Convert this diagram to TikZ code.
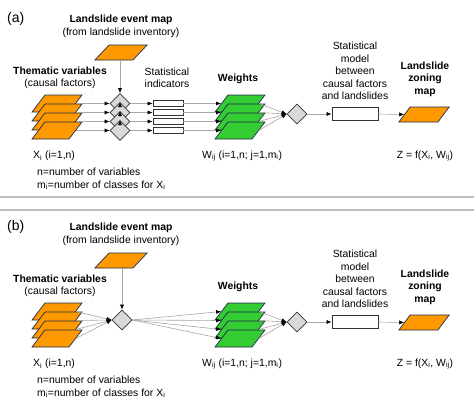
\documentclass[tikz,border=0pt]{standalone}
\usepackage{fontspec}
\setmainfont{Liberation Sans}
\usetikzlibrary{shapes.geometric,arrows.meta}
\definecolor{orng}{HTML}{FF9900}
\definecolor{grn}{HTML}{33CC33}
\definecolor{edg}{HTML}{1F2A4A}
\definecolor{lgr}{HTML}{D9D9D9}
\definecolor{wire}{HTML}{A6A6A6}
\begin{document}
\begin{tikzpicture}[x=1pt,y=-1pt,
  txt/.style={font=\fontsize{10.4}{12.5}\selectfont,align=center,inner sep=0pt},
  lyr/.style={draw=edg,line width=0.7pt,fill=#1,xslant=0.76,transform shape,minimum width=37pt,minimum height=17pt,inner sep=0pt},
  map/.style={draw=edg,line width=0.7pt,fill=orng,transform shape,minimum width=#1,minimum height=15pt,inner sep=0pt},
  dmd/.style={diamond,draw=black!80,fill=lgr,line width=0.7pt,minimum width=20pt,minimum height=20pt,inner sep=0pt},
  box/.style={draw=black!80,fill=white,line width=0.7pt,inner sep=0pt},
  wr/.style={draw=wire,line width=0.6pt,-{Latex[color=black,length=5pt,width=4pt]}}]
\useasboundingbox (0,0) rectangle (474,407);
\draw[line width=1.2pt,color=black!25](0,197)--(474,197);\draw[line width=1.2pt,color=black!25](0,210)--(474,210);
\foreach \p/\oy in {a/0,b/208}{
\node[anchor=west,font=\fontsize{14}{16}\selectfont,inner sep=0pt](lab\p) at (7,19+\oy) {(\p)};
\node[txt](et\p) at (121,26.5+\oy) {\textbf{Landslide event map}\\(from landslide inventory)};
\node[map=38pt,xslant=0.95](m\p) at (121,52.5+\oy) {};
\node[txt](tv\p) at (60,78+\oy) {\textbf{Thematic variables}\\(causal factors)};
\node[txt](wt\p) at (238,79+\oy) {\textbf{Weights}};
\node[txt](sm\p) at (355,71+\oy) {Statistical\\model\\between\\causal factors\\and landslides};
\node[txt](zt\p) at (425,79+\oy) {\textbf{Landslide}\\\textbf{zoning}\\\textbf{map}};
\foreach \k in {1,...,4}{\node[lyr=orng](o\p\k) at (57,94.5+9*\k+\oy) {};}
\foreach \k in {1,...,4}{\node[lyr=grn](g\p\k) at (240,94.5+9*\k+\oy) {};}
\node[dmd](c\p) at (297,114+\oy) {};
\node[box,minimum width=46pt,minimum height=13pt](r\p) at (355,114+\oy) {};
\node[map=39pt,xslant=0.75](z\p) at (424,114.5+\oy) {};
\foreach \k in {1,...,4}{\draw[wr](g\p\k.east)--(c\p.west);}
\draw[wr](c\p.east)--(r\p.west);\draw[wr](r\p.east)--(z\p.west);
\node[txt,anchor=west](xl\p) at (33,156+\oy) {X\textsubscript{i} (i=1,n)};
\node[txt,anchor=west,align=left](nv\p) at (37,179+\oy) {n=number of variables\\m\textsubscript{i}=number of classes for X\textsubscript{i}};
\node[txt,anchor=west](wl\p) at (202,156+\oy) {W\textsubscript{ij} (i=1,n; j=1,m\textsubscript{i})};
\node[txt](zl\p) at (425,156+\oy) {Z = f(X\textsubscript{i}, W\textsubscript{ij})};
}
\node[txt](si) at (167,78) {Statistical\\indicators};
\foreach \k in {1,...,4}{\node[dmd](da\k) at (120,94.5+9*\k) {};}
\foreach \k in {1,...,4}{\node[box,minimum width=30pt,minimum height=6pt](ia\k) at (168,94.5+9*\k) {};}
\draw[wr](da1.north |- ma.south)--(da1.north);
\foreach \k/\j in {2/1,3/2,4/3}{\draw[wr](da\j.center)--(da\k.north);}
\foreach \k in {1,...,4}{\draw[wr](oa\k.east)--(da\k.west);\draw[wr](da\k.east)--(ia\k.west);\draw[wr](ia\k.east)--(ga\k.west);}
\node[dmd](db) at (122,320) {};
\draw[wr](db.north |- mb.south)--(db.north);
\foreach \k in {1,...,4}{\draw[wr](ob\k.east)--(db.west);\draw[wr](db.east)--(gb\k.west);}
\end{tikzpicture}
\end{document}
